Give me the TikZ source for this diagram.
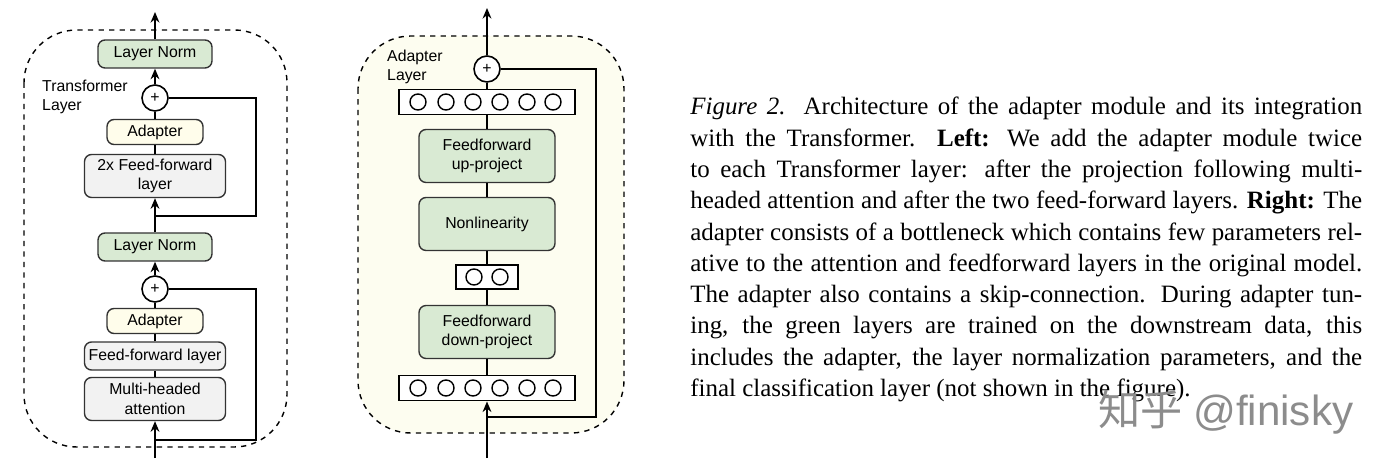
\documentclass[tikz,border=0pt]{standalone}
\usepackage{fontspec}
\setmainfont{Liberation Serif}
\newfontfamily\dsans{Liberation Sans}
\newfontfamily\cjk{Noto Sans CJK SC}
\usetikzlibrary{arrows.meta}
\definecolor{gfill}{HTML}{D9EAD3}
\definecolor{afill}{HTML}{FFFDEB}
\definecolor{bfill}{HTML}{F2F2F2}
\definecolor{bgy}{HTML}{FDFDF0}
\begin{document}
\begin{tikzpicture}[x=0.02cm,y=-0.02cm,
  box/.style={draw=black!80,line width=0.8pt,rounded corners=4pt,inner sep=0pt,align=center,font=\dsans\fontsize{9}{11}\selectfont},
  line/.style={line width=1.3pt},
  arr/.style={line width=1.3pt,-{Stealth[length=6pt,width=5pt]}},
  plus/.style={circle,draw,line width=0.9pt,fill=white,inner sep=0pt,font=\dsans\small},
  neu/.style={circle,draw,line width=0.8pt,minimum size=0.32cm,inner sep=0pt},
  vec/.style={draw,line width=1.1pt,fill=white,inner sep=0pt}]
\useasboundingbox (0,0) rectangle (1394,476);
% ---------- Left ----------
\draw[dashed,line width=0.8pt,rounded corners=30pt] (24,30) rectangle (287,447);
\node[anchor=west,align=left,font=\dsans\fontsize{9}{11}\selectfont] (tl) at (36,97) {Transformer\\Layer};
\node[box,fill=gfill,minimum width=2.28cm,minimum height=0.56cm] (ln1) at (155,54) {Layer Norm};
\node[plus,minimum size=0.52cm] (p1) at (155,98) {+};
\node[box,fill=afill,minimum width=1.92cm,minimum height=0.5cm] (ad1) at (155,132) {Adapter};
\node[box,fill=bfill,minimum width=2.82cm,minimum height=0.86cm] (ff2) at (155,176) {2x Feed-forward\\layer};
\node[box,fill=gfill,minimum width=2.28cm,minimum height=0.56cm] (ln2) at (155,247) {Layer Norm};
\node[plus,minimum size=0.52cm] (p2) at (155,289) {+};
\node[box,fill=afill,minimum width=1.92cm,minimum height=0.5cm] (ad2) at (155,321) {Adapter};
\node[box,fill=bfill,minimum width=2.82cm,minimum height=0.56cm] (ff1) at (155,356) {Feed-forward layer};
\node[box,fill=bfill,minimum width=2.82cm,minimum height=0.86cm] (mha) at (155,399) {Multi-headed\\attention};
\coordinate (lin) at (155,458);
\coordinate (lout) at (155,12);
\coordinate (s1) at (155,216);
\coordinate (s2) at (155,440);
\draw[arr] (lin) -- (mha);
\draw[line] (mha) -- (ff1); \draw[line] (ff1) -- (ad2); \draw[line] (ad2) -- (p2);
\draw[arr] (p2) -- (ln2);
\draw[arr] (ln2) -- (ff2);
\draw[line] (ff2) -- (ad1); \draw[line] (ad1) -- (p1);
\draw[arr] (p1) -- (ln1);
\draw[arr] (ln1) -- (lout);
\draw[line] (p2.east) -- (256,289) -- (256,440) -- (s2);
\draw[line] (p1.east) -- (256,98) -- (256,216) -- (s1);
% ---------- Right ----------
\draw[dashed,line width=0.8pt,rounded corners=30pt,fill=bgy] (358,36) rectangle (624,433);
\node[anchor=west,align=left,font=\dsans\fontsize{9}{11}\selectfont] (al) at (381,67) {Adapter\\Layer};
\coordinate (rin) at (487,458);
\coordinate (rout) at (487,8);
\coordinate (rs) at (487,417);
\node[vec,minimum width=3.52cm,minimum height=0.5cm] (vb) at (487,388) {};
\node[vec,minimum width=3.52cm,minimum height=0.5cm] (vt) at (487,102) {};
\node[vec,minimum width=1.24cm,minimum height=0.48cm] (vs) at (487,277) {};
\foreach \i/\x in {1/418,2/446,3/473,4/500,5/527,6/553}{
  \node[neu] (nb\i) at (\x,388) {};
  \node[neu] (nt\i) at (\x,102) {};
}
\node[neu] (ns1) at (474,277) {};
\node[neu] (ns2) at (500,277) {};
\node[box,fill=gfill,minimum width=2.72cm,minimum height=1.06cm] (fd) at (487,332) {Feedforward\\down-project};
\node[box,fill=gfill,minimum width=2.72cm,minimum height=1.06cm] (nl) at (487,224) {Nonlinearity};
\node[box,fill=gfill,minimum width=2.72cm,minimum height=1.06cm] (fu) at (487,156) {Feedforward\\up-project};
\node[plus,minimum size=0.52cm] (p3) at (487,69) {+};
\draw[arr] (rin) -- (vb);
\draw[line] (vb) -- (fd); \draw[line] (fd) -- (vs); \draw[line] (vs) -- (nl);
\draw[line] (nl) -- (fu); \draw[line] (fu) -- (vt); \draw[line] (vt) -- (p3);
\draw[arr] (p3) -- (rout);
\draw[line] (p3.east) -- (596,69) -- (596,417) -- (rs);
% ---------- Caption ----------
\node[anchor=north west,inner sep=0pt,text width=13.44cm,align=justify,font=\fontsize{14.2}{17.8}\selectfont] (cap) at (690,97) {%
\emph{Figure 2.} Architecture of the adapter module and its integration\linebreak
with the Transformer. \textbf{Left:} We add the adapter module twice\linebreak
to each Transformer layer: after the projection following multi-\linebreak
headed attention and after the two feed-forward layers. \textbf{Right:} The\linebreak
adapter consists of a bottleneck which contains few parameters rel-\linebreak
ative to the attention and feedforward layers in the original model.\linebreak
The adapter also contains a skip-connection. During adapter tun-\linebreak
ing, the green layers are trained on the downstream data, this\linebreak
includes the adapter, the layer normalization parameters, and the\linebreak
final classification layer (not shown in the figure).};
\node[anchor=west,inner sep=0pt,text=black!45,font=\fontsize{24}{28}\selectfont] (wm) at (1098,412) {{\cjk 知乎} {\dsans @finisky}};
\end{tikzpicture}
\end{document}
